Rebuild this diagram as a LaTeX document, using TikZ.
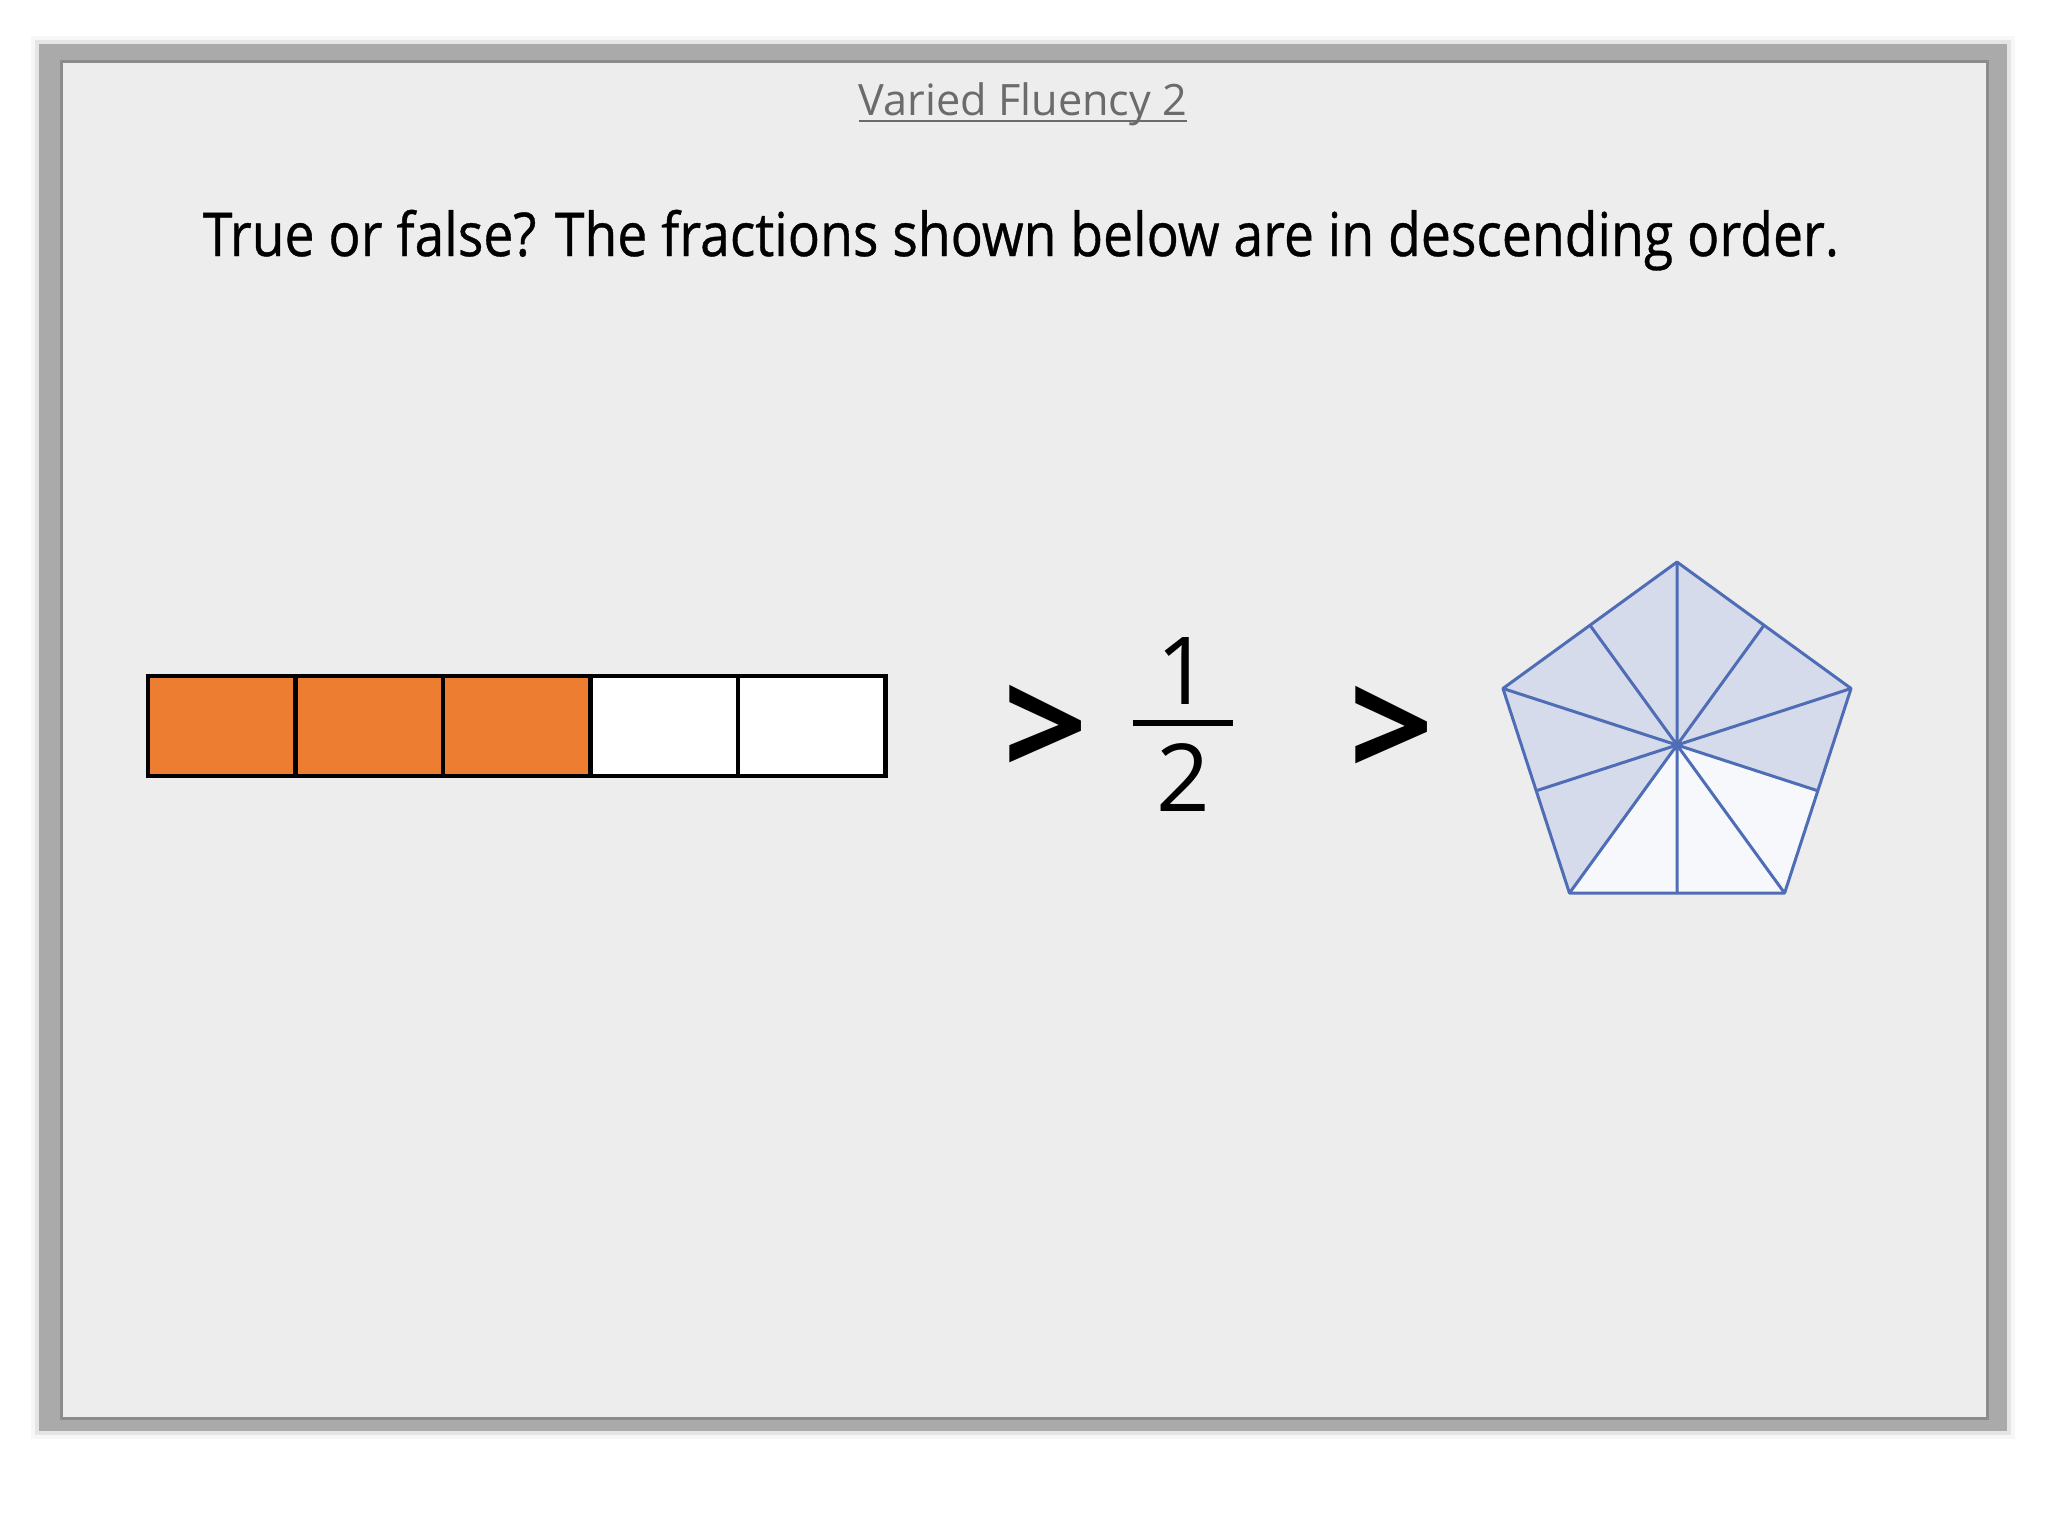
\documentclass[tikz,border=0pt]{standalone}
\usepackage{fontspec}
\setmainfont{Open Sans}
\newfontfamily\questionfont[FakeStretch=0.885, FakeBold=0.6]{Open Sans}
\usetikzlibrary{shapes.geometric,positioning}
\definecolor{slidebg}{HTML}{EDEDED}
\definecolor{frameband}{HTML}{AAAAAA}
\definecolor{frameline}{HTML}{8C8C8C}
\definecolor{titlegray}{HTML}{6B6B6B}
\definecolor{barorange}{HTML}{ED7D31}
\definecolor{pentblue}{HTML}{4F6DB6}
\definecolor{pentshade}{HTML}{D5DBEA}
\definecolor{pentlight}{HTML}{F7F8FC}
\tikzset{
  base/.style={inner sep=0pt, outer sep=0mm},
  heading/.style={base, text=titlegray, font=\fontsize{12.3}{15}\selectfont},
  question/.style={base, font=\questionfont\fontsize{17.2}{21}\selectfont},
  cell/.style={base, rectangle, draw=black, line width=0.45mm, minimum width=14.75mm, minimum height=10mm},
  orangecell/.style={cell, fill=barorange},
  whitecell/.style={cell, fill=white},
  sign/.style={base, font=\bfseries\fontsize{42}{46}\selectfont},
  digit/.style={base, font=\fontsize{26.7}{30}\selectfont},
  pentagon/.style={base, regular polygon, regular polygon sides=5, minimum size=36.6mm},
  spoke/.style={draw=pentblue, line width=0.3mm, line join=round}
}

\begin{document}
\begin{tikzpicture}[x=0.1mm, y=-0.1mm]
  % slide frame
  \useasboundingbox (0,0) rectangle (2048,1536);
  \fill[white] (0,0) rectangle (2048,1536);
  \fill[black!3] (31,36) rectangle (2015,1439);
  \fill[black!10] (35,40) rectangle (2011,1435);
  \fill[frameband] (39,44) rectangle (2007,1431);
  \filldraw[fill=slidebg, draw=frameline, line width=0.3mm] (61,61) rectangle (1987,1418);

  \node[heading, anchor=base] (title) at (1023,115) {Varied Fluency 2};
  \draw[titlegray, line width=0.2mm] ([yshift=-0.6mm]title.base west) -- ([yshift=-0.6mm]title.base east);
  \node[question, anchor=base] (question) at (1021,256) {True or false? The fractions shown below are in descending order.};

  % bar model
  \node[orangecell, anchor=north west] (cell1) at (148,676) {};
  \node[orangecell, right=0pt of cell1] (cell2) {};
  \node[orangecell, right=0pt of cell2] (cell3) {};
  \node[whitecell, right=0pt of cell3] (cell4) {};
  \node[whitecell, right=0pt of cell4] (cell5) {};

  % signs and one half
  \node[sign] (gt1) at (1046,731) {>};
  \node[digit] (num) at (1183,671) {1};
  \node[digit] (den) at (1183,777) {2};
  \draw[line width=0.65mm] (1133,723) -- (1233,723);
  \node[sign] (gt2) at (1392,732) {>};

  % pentagon
  \node[pentagon] (pent) at (1677,745) {};
  \fill[pentshade] (pent.center) -- (pent.side 4) -- (pent.corner 5) -- (pent.side 5) -- (pent.corner 1) -- (pent.side 1)
    -- (pent.corner 2) -- (pent.side 2) -- (pent.corner 3) -- cycle;
  \fill[pentlight] (pent.center) -- (pent.corner 3) -- (pent.side 3) -- (pent.corner 4) -- (pent.side 4) -- cycle;
  \draw[spoke] (pent.corner 1) -- (pent.corner 2) -- (pent.corner 3) -- (pent.corner 4) -- (pent.corner 5) -- cycle;
  \foreach \k in {1,...,5}
    \draw[spoke] (pent.center) -- (pent.corner \k) (pent.center) -- (pent.side \k);
  \fill[pentblue] (pent.center) circle (0.45mm);
\end{tikzpicture}
\end{document}
